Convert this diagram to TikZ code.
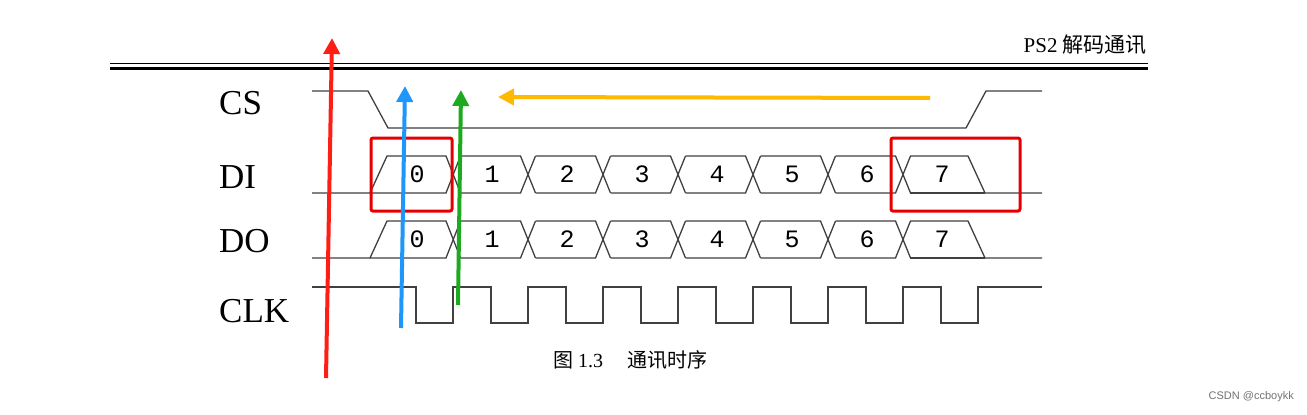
\documentclass[tikz,border=0pt]{standalone}
\usepackage{fontspec}
\setmainfont{Liberation Serif}
\newfontfamily\cjk{Noto Sans CJK SC}
\newfontfamily\digfont{Liberation Mono}
\newfontfamily\wmfont{Liberation Sans}
\usetikzlibrary{arrows.meta}
\begin{document}
\begin{tikzpicture}[x=1pt,y=-1pt,
  wave/.style={draw=black!75,line width=1.3pt},
  sig/.style={font=\fontsize{35}{35}\selectfont,anchor=west,inner sep=0},
  dig/.style={font=\digfont\fontsize{25}{25}\selectfont,inner sep=0},
  hl/.style={draw=red!90!black,line width=3pt,rounded corners=2pt},
  arr/.style={-{Triangle[length=16pt,width=16pt]},line width=4pt}]
\useasboundingbox (0,0) rectangle (1307,415);
\fill[white] (0,0) rectangle (1307,415);
% header
\node[anchor=east,inner sep=0,font=\fontsize{21}{21}\selectfont] (hdr) at (1147,45) {PS2 {\cjk 解码通讯}};
\draw[line width=1.2pt] (110,63.5) -- (1148,63.5);
\draw[line width=3pt] (110,68.5) -- (1148,68.5);
% labels
\node[sig] (cs) at (219,103) {CS};
\node[sig] (di) at (219,177) {DI};
\node[sig] (do) at (219,241) {DO};
\node[sig] (clk) at (219,311) {CLK};
% CS
\draw[wave] (312,91) -- (368,91) -- (388,128) -- (966,128) -- (986,91) -- (1042,91);
% buses
\foreach \t/\b/\nm in {156/193/di, 221/258/do}{
  \draw[wave] (312,\b) -- (370,\b) -- (387,\t) -- (446,\t) -- ({453+7.5},\b);
  \draw[wave] (370,\b) -- (446,\b) -- ({453+7.5},\t);
  \foreach \k in {1,...,6}{
    \pgfmathsetmacro\xa{453+75*(\k-1)}
    \pgfmathsetmacro\xb{453+75*\k}
    \draw[wave] (\xa+7.5,\t) -- (\xb-7.5,\t) -- (\xb+7.5,\b);
    \draw[wave] (\xa+7.5,\b) -- (\xb-7.5,\b) -- (\xb+7.5,\t);
  }
  \draw[wave] (910,\t) -- (968,\t) -- (985,\b) -- (1042,\b);
  \draw[wave] (910,\b) -- (985,\b);
  \foreach \k in {0,...,7}{
    \node[dig] (\nm\k) at ({417+75*\k},{(\t+\b)/2}) {\k};
  }
}
% clock
\draw[wave] (312,287) \foreach \k in {0,...,7}{ -- ({416+75*\k},287) -- ({416+75*\k},323) -- ({453+75*\k},323) -- ({453+75*\k},287)} -- (1042,287);
% caption
\node[inner sep=0,font=\fontsize{20}{20}\selectfont] (cap) at (630,360) {{\cjk 图} 1.3\hspace{1.2em}{\cjk 通讯时序}};
% highlights
\draw[hl] (371,138) rectangle (452,211);
\draw[hl] (891,138) rectangle (1020,211);
% arrows
\coordinate (r0) at (326,378); \coordinate (r1) at (332,38);
\coordinate (b0) at (401,328); \coordinate (b1) at (405,86);
\coordinate (g0) at (458,305); \coordinate (g1) at (461,90);
\coordinate (o0) at (930,98); \coordinate (o1) at (498,97);
\definecolor{rr}{RGB}{255,30,20}
\definecolor{bb}{RGB}{30,150,250}
\definecolor{gg}{RGB}{30,170,30}
\definecolor{oo}{RGB}{255,185,0}
\draw[arr,draw=rr,fill=rr] (r0) -- (r1);
\draw[arr,draw=bb,fill=bb] (b0) -- (b1);
\draw[arr,draw=gg,fill=gg] (g0) -- (g1);
\draw[arr,draw=oo,fill=oo] (o0) -- (o1);
\node[anchor=east,inner sep=0,text=black!55,font=\wmfont\fontsize{11}{11}\selectfont] (wm) at (1294,397) {CSDN @ccboykk};
\end{tikzpicture}
\end{document}
